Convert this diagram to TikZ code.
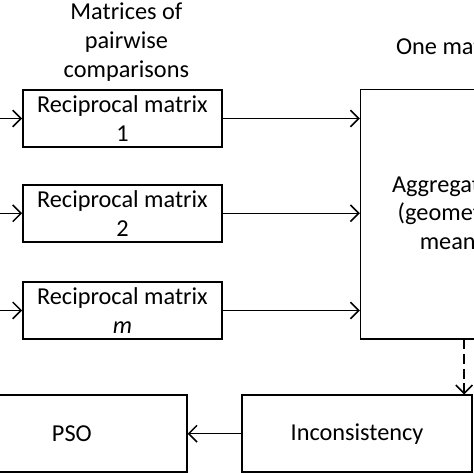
\documentclass[tikz,border=0pt]{standalone}
\usepackage{fontspec}
\setmainfont{Carlito}
\usetikzlibrary{arrows.meta}

\begin{document}
\begin{tikzpicture}[every node/.style={font=\fontsize{17.5}{20.7}\selectfont, align=center}, line width=1.1pt,
    >={Straight Barb[length=6pt, width=12pt]},
    matbox/.style={rectangle, draw, minimum height=1.44cm, minimum width=5.04cm},
    lowbox/.style={rectangle, draw, minimum height=1.95cm, minimum width=5.82cm}]
    \useasboundingbox (0,0) rectangle (12,12);
    \clip (0,0) rectangle (12,12);

    % Matrices of pairwise comparisons
    \node (head) at (3.2,10.94) {Matrices of\\pairwise\\comparisons};
    \node[matbox] (rm1) at (3.1,9.0) {Reciprocal matrix\\1};
    \node[matbox] (rm2) at (3.1,6.6) {Reciprocal matrix\\2};
    \node[matbox] (rmm) at (3.1,4.14) {Reciprocal matrix\\\textit{m}};

    \coordinate (in1) at (-1,9.0);
    \coordinate (in2) at (-1,6.6);
    \coordinate (inm) at (-1,4.14);
    \draw[->] (in1) -- (rm1);
    \draw[->] (in2) -- (rm2);
    \draw[->] (inm) -- (rmm);

    % Aggregation
    \node[rectangle, draw, minimum height=6.31cm, minimum width=4.6cm, anchor=north west] (agg) at (9.11,9.75) {Aggregation\\(geometric\\mean)};
    \node (one) at (11.42,10.84) {One matrix};

    \draw[->] (rm1) -- (rm1 -| agg.west);
    \draw[->] (rm2) -- (rm2 -| agg.west);
    \draw[->] (rmm) -- (rmm -| agg.west);

    % Consistency check
    \node[lowbox] (inc) at (9.04,1.02) {Inconsistency};
    \node[lowbox] (pso) at (1.82,1.02) {PSO};
    \draw[->] (inc) -- (pso);

    \coordinate (drop) at (11.75,0);
    \draw[->, dash pattern=on 7pt off 3.5pt] (agg.south -| drop) -- (inc.north -| drop);
\end{tikzpicture}
\end{document}
